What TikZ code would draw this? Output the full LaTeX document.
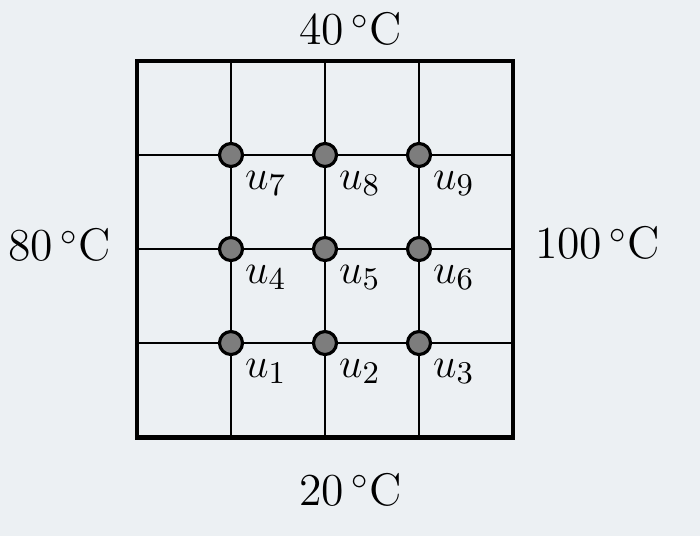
\documentclass[tikz,border=0pt]{standalone}
\definecolor{paper}{RGB}{236,240,243}
\definecolor{dotgray}{RGB}{125,125,125}
\tikzset{
    gridpoint/.style = {circle, draw = black, line width = .9pt, fill = dotgray,
        inner sep = 0pt, minimum size = .23cm},
    ulabel/.style = {inner sep = 0pt, font = \fontsize{13}{15}\selectfont},
    temp/.style = {inner sep = 0pt, font = \fontsize{13}{15}\selectfont}
}
\begin{document}
\begin{tikzpicture}[
        x = .94cm,
        y = .94cm,
        line width = .8pt
    ]
        \fill[paper] (-1.457,-1.053) rectangle (5.989,4.649);
        \useasboundingbox (-1.457,-1.053) rectangle (5.989,4.649);
        % inner grid lines
        \foreach \i in {1,2,3} {
            \draw (\i,0)--(\i,4);
            \draw (0,\i)--(4,\i);
        }
        % outer border
        \draw[line width = 1.4pt] (0,0) rectangle (4,4);
        % interior nodes
        \foreach \j in {1,2,3} {
            \foreach \i in {1,2,3} {
                \pgfmathtruncatemacro{\k}{3*(\j-1)+\i}
                \node[gridpoint] (n\k) at (\i,\j) {};
                \node[ulabel] (l\k) at ([shift={(.37,-.3)}]n\k.center) {$u_{\k}$};
            }
        }
        % boundary temperatures
        \node[temp] (top)    at (2.27, 4.34) {40\,$^\circ$C};
        \node[temp] (bottom) at (2.27,-.56)  {20\,$^\circ$C};
        \node[temp] (left)   at (-.82, 2.04) {80\,$^\circ$C};
        \node[temp] (right)  at (4.90, 2.06) {100\,$^\circ$C};
    \end{tikzpicture}
\end{document}
